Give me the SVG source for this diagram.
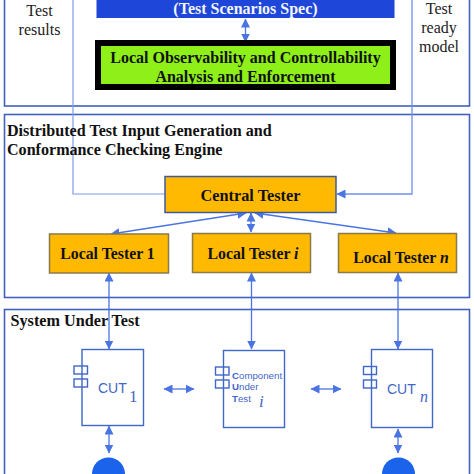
<svg xmlns="http://www.w3.org/2000/svg" width="474" height="474" viewBox="0 0 474 474">
<defs>
<marker id="a" markerUnits="userSpaceOnUse" markerWidth="10" markerHeight="9" refX="8.500" refY="4.500" orient="auto-start-reverse"><path d="M0 0L9 4.500L0 9Z" fill="#4a74e2"/></marker>
</defs>
<style>
.f{fill:none;stroke:#4160c0;stroke-width:1.6}
.c{fill:none;stroke:#7f9bea;stroke-width:1.2}
.d{fill:none;stroke:#4a74e2;stroke-width:1.3;marker-start:url(#a);marker-end:url(#a)}
.e{fill:none;stroke:#6f90ea;stroke-width:1.3;marker-end:url(#a)}
.b{font-family:"Liberation Serif",serif;font-weight:bold;fill:#111}
.r{font-family:"Liberation Serif",serif;fill:#222;font-size:16px;text-anchor:middle}
.o{fill:#ffb900;stroke:#8a7a4a;stroke-width:1.5}
.u{fill:#fff;stroke:#3f66c8;stroke-width:1.4}
.p{fill:none;stroke:#3f66c8;stroke-width:1.4}
.s{font-family:"Liberation Sans",sans-serif;fill:#3f66c8}
.m{font-family:"Liberation Serif",serif;fill:#3f66c8}
</style>
<rect width="474" height="474" fill="#fff"/>
<g id="frames">
<rect class="f" x="4.500" y="-20" width="465" height="126"/>
<rect class="f" x="4.500" y="114.500" width="465" height="183"/>
<rect class="f" x="4.500" y="309.500" width="465" height="180"/>
</g>
<g id="connectors">
<path class="c" d="M73 0V194H165"/>
<path class="e" d="M412 0V194H337"/>
<path class="d" d="M245.500 19V42"/>
<path class="d" d="M246 213L111 234"/>
<path class="d" d="M251 213V232"/>
<path class="d" d="M255 213L396 233"/>
<path class="d" d="M109 273V349"/>
<path class="d" d="M251.500 273V349"/>
<path class="d" d="M398 273V349"/>
<path class="d" d="M164 389H194"/>
<path class="d" d="M311 389H341"/>
<path class="d" d="M109 426V453"/>
<path class="d" d="M398 429V453"/>
</g>
<g id="spec">
<rect x="96.500" y="-20" width="298" height="38" fill="#1e46d8"/>
<text x="245.500" y="13.500" class="b" font-size="16" text-anchor="middle" style="fill:#f2f4ff">(Test Scenarios Spec)</text>
</g>
<g id="analysis">
<rect x="98" y="43" width="295" height="44" fill="#8ef018" stroke="#000" stroke-width="6"/>
<text x="245.500" y="63" class="b" font-size="16" text-anchor="middle">Local Observability and Controllability</text>
<text x="245.500" y="81.500" class="b" font-size="16" text-anchor="middle">Analysis and Enforcement</text>
</g>
<g id="test-results"><text class="r" x="39.500" y="16">Test</text><text class="r" x="39.500" y="35">results</text></g>
<g id="test-ready-model"><text class="r" x="439" y="14">Test</text><text class="r" x="439" y="33">ready</text><text class="r" x="439" y="52">model</text></g>
<g id="engine-title">
<text class="b" x="7" y="135.500" font-size="16.100">Distributed Test Input Generation and</text>
<text class="b" x="7" y="154.500" font-size="16.100">Conformance Checking Engine</text>
</g>
<g id="central-tester">
<rect x="165" y="176.500" width="171" height="36" fill="#ffb900" stroke="#3f5a9c" stroke-width="1.500"/>
<text class="b" x="250.500" y="201" font-size="16.300" text-anchor="middle">Central Tester</text>
</g>
<g id="local-tester-1">
<rect class="o" x="49.500" y="234" width="119" height="39"/>
<text class="b" x="107.500" y="259" font-size="15.800" text-anchor="middle">Local Tester 1</text>
</g>
<g id="local-tester-i">
<rect class="o" x="192.500" y="233.500" width="118" height="39"/>
<text class="b" x="253" y="259" font-size="15.800" text-anchor="middle">Local Tester <tspan font-style="italic">i</tspan></text>
</g>
<g id="local-tester-n">
<rect class="o" x="338.500" y="233.500" width="118" height="39"/>
<text class="b" x="401" y="262.500" font-size="15.800" text-anchor="middle">Local Tester <tspan font-style="italic">n</tspan></text>
</g>
<g id="sut-title"><text class="b" x="10.500" y="326" font-size="16.200">System Under Test</text></g>
<g id="cut-1">
<rect class="u" x="82" y="349.500" width="61.500" height="76"/>
<rect class="p" x="74" y="366" width="13.500" height="8"/>
<rect class="p" x="74" y="379" width="13.500" height="8"/>
<text class="s" x="98" y="392.500" font-size="14">CUT</text>
<text class="m" x="129" y="402" font-size="17">1</text>
</g>
<g id="cut-i">
<rect class="u" x="223.500" y="350.500" width="61" height="77"/>
<rect class="p" x="215.500" y="367" width="13.500" height="8"/>
<rect class="p" x="215.500" y="380" width="13.500" height="8"/>
<text class="s" x="232" y="379" font-size="9.700"><tspan font-weight="bold">C</tspan>omponent</text>
<text class="s" x="232" y="390" font-size="9.700"><tspan font-weight="bold">U</tspan>nder</text>
<text class="s" x="232" y="401.500" font-size="9.700"><tspan font-weight="bold">T</tspan>est</text>
<text class="m" x="259" y="406.500" font-style="italic" font-size="17">i</text>
</g>
<g id="cut-n">
<rect class="u" x="371.500" y="349.500" width="61" height="78"/>
<rect class="p" x="363.500" y="366.500" width="13" height="8"/>
<rect class="p" x="363.500" y="380" width="13" height="8"/>
<text class="s" x="387" y="394" font-size="14">CUT</text>
<text class="m" x="420" y="402" font-style="italic" font-size="16">n</text>
</g>
<g id="actor-1"><circle cx="108.500" cy="474" r="16.500" fill="#1a63ea"/></g>
<g id="actor-n"><circle cx="398.500" cy="474" r="16.500" fill="#1a63ea"/></g>
</svg>
